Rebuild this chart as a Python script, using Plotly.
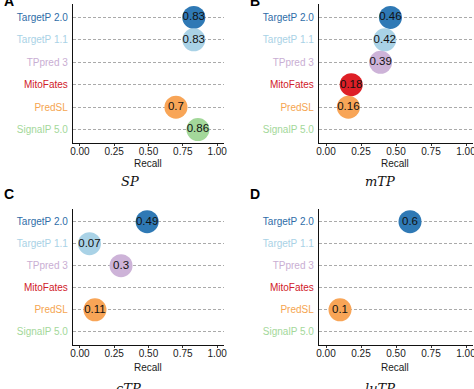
import plotly.graph_objects as go

methods = ["TargetP 2.0", "TargetP 1.1", "TPpred 3", "MitoFates", "PredSL", "SignalP 5.0"]
colors = ["#2F79B5", "#A9D2E6", "#CDB3D8", "#DE1F26", "#F8A557", "#A3D89A"]
label_colors = ["#2F6DA8", "#A9D2E6", "#C9AED3", "#D0202A", "#F5A550", "#A3D89A"]

sp_methods = ["TargetP 2.0", "TargetP 1.1", "PredSL", "SignalP 5.0"]
sp_recall = [0.83, 0.83, 0.7, 0.86]
mtp_methods = ["TargetP 2.0", "TargetP 1.1", "TPpred 3", "MitoFates", "PredSL"]
mtp_recall = [0.46, 0.42, 0.39, 0.18, 0.16]
ctp_methods = ["TargetP 2.0", "TargetP 1.1", "TPpred 3", "PredSL"]
ctp_recall = [0.49, 0.07, 0.3, 0.11]
lutp_methods = ["TargetP 2.0", "PredSL"]
lutp_recall = [0.6, 0.1]

x_ticks = [0, 0.25, 0.5, 0.75, 1.0]
x_ticklabels = ["0.00", "0.25", "0.50", "0.75", "1.00"]

# figure is slightly wider than the 474px window so the right-most label is clipped like the reference
W, H = 496, 389
FONT = "Liberation Sans"

def px(x):
    return x / W

def py(y):
    return 1 - y / H

panels = [
    ("A", "SP", sp_methods, sp_recall, (73, 224), (4, 143), (2, 1), (130, 182), (148, 163)),
    ("B", "mTP", mtp_methods, mtp_recall, (319, 473), (4, 143), (248, 1), (380, 182), (395, 163)),
    ("C", "cTP", ctp_methods, ctp_recall, (73, 224), (208.5, 345), (2, 194), (128, 388), (148, 367)),
    ("D", "luTP", lutp_methods, lutp_recall, (319, 473), (208.5, 345), (248, 194), (380, 388), (395, 367)),
]

fig = go.Figure()
annotations = []
layout_axes = {}

ticktext = [f'<span style="color:{c}">{m}</span>' for m, c in zip(methods, label_colors)]

for i, (letter, sub, ms, vals, xd, yd, lp, sp, rp) in enumerate(panels):
    n = i + 1
    xa = "x" if n == 1 else f"x{n}"
    ya = "y" if n == 1 else f"y{n}"
    idx = [methods.index(m) for m in ms]
    fig.add_trace(go.Scatter(
        x=vals, y=idx, xaxis=xa, yaxis=ya,
        mode="markers+text",
        marker=dict(size=23, color=[colors[k] for k in idx], line=dict(width=0)),
        text=[f"{v:g}" for v in vals],
        textposition="middle center",
        textfont=dict(family=FONT, size=11.5, color="#111111"),
        showlegend=False, hoverinfo="skip", cliponaxis=False,
    ))
    xkey = "xaxis" if n == 1 else f"xaxis{n}"
    ykey = "yaxis" if n == 1 else f"yaxis{n}"
    layout_axes[xkey] = dict(
        domain=[px(xd[0]), px(xd[1])], range=[-0.05, 1.05], anchor=ya,
        tickvals=x_ticks, ticktext=x_ticklabels,
        showgrid=False, zeroline=False,
        showline=True, linecolor="#111111", linewidth=1.2,
        ticks="outside", ticklen=2, tickcolor="#333333", tickwidth=1,
        ticklabelstandoff=-3,
        tickfont=dict(family=FONT, size=10, color="#1a1a1a"),
    )
    layout_axes[ykey] = dict(
        domain=[py(yd[1]), py(yd[0])], range=[5.6, -0.6], anchor=xa,
        tickvals=list(range(len(methods))), ticktext=ticktext,
        showgrid=True, gridcolor="#aaaaaa", gridwidth=1, griddash="3px,2px",
        zeroline=False,
        showline=True, linecolor="#111111", linewidth=1.2,
        ticks="", ticklabelstandoff=2,
        tickfont=dict(family=FONT, size=10),
    )
    annotations.append(dict(
        x=px(lp[0]), y=py(lp[1]), xref="paper", yref="paper",
        text=f"<b>{letter}</b>", showarrow=False, xanchor="left", yanchor="middle",
        font=dict(family=FONT, size=14, color="#000000"),
    ))
    annotations.append(dict(
        x=px(rp[0]), y=py(rp[1]), xref="paper", yref="paper",
        text="Recall", showarrow=False, xanchor="center", yanchor="middle",
        font=dict(family=FONT, size=10, color="#1a1a1a"),
    ))
    annotations.append(dict(
        x=px(sp[0]), y=py(sp[1]), xref="paper", yref="paper",
        text=f"<i>{sub}</i>", showarrow=False, xanchor="center", yanchor="middle",
        font=dict(family="DejaVu Serif", size=13, color="#111111"),
    ))

fig.update_layout(
    width=W, height=H,
    margin=dict(l=0, r=0, t=0, b=0, autoexpand=False),
    paper_bgcolor="white", plot_bgcolor="white",
    annotations=annotations,
    **layout_axes,
)

fig.write_html(
    "out.html",
    config={"displayModeBar": False, "staticPlot": True},
    post_script="document.body.style.margin='0px';document.body.style.overflow='hidden';",
)
